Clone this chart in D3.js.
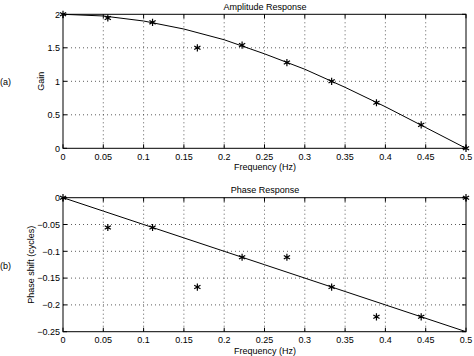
<!DOCTYPE html>
<html><head><meta charset="utf-8">
<script src="https://cdn.jsdelivr.net/npm/d3@7"></script>
<style>
body{margin:0;background:#fff;}
text{font-family:"Liberation Sans",Arial,sans-serif;fill:#000;}
</style></head>
<body><svg id="c" width="474" height="356"></svg>
<script>
// ---- data ----
const xTicks = [0,0.05,0.1,0.15,0.2,0.25,0.3,0.35,0.4,0.45,0.5];
const ampTicks = [0,0.5,1,1.5,2];
const phaseTicks = [0,-0.05,-0.1,-0.15,-0.2,-0.25];
const lineFreq = [0,0.05,0.1,0.15,0.2,0.25,0.3,0.35,0.4,0.45,0.5];
const ampLine = [2.0,1.975,1.90,1.78,1.62,1.41,1.18,0.91,0.62,0.31,0.0];
const phaseLine = [0,-0.025,-0.05,-0.075,-0.1,-0.125,-0.15,-0.175,-0.2,-0.225,-0.25];
const markFreq = [0,0.0556,0.1111,0.1667,0.2222,0.2778,0.3333,0.3889,0.4444,0.5];
const ampMarks = [2.0,1.945,1.88,1.50,1.54,1.28,1.0,0.68,0.35,0.0];
const phaseMarks = [0,-0.0556,-0.0556,-0.1667,-0.1111,-0.1111,-0.1667,-0.2222,-0.2222,0];

const svg = d3.select("#c");
const x = d3.scaleLinear().domain([0,0.5]).range([63,466]);
const FS = 9;

function panel(cfg){
  const y = d3.scaleLinear().domain(cfg.domain).range(cfg.range);
  const g = svg.append("g");
  const [y0,y1] = cfg.range; // bottom, top
  // grid
  g.selectAll(".gx").data(xTicks.slice(1,-1)).enter().append("line")
    .attr("x1",d=>x(d)).attr("x2",d=>x(d)).attr("y1",y1).attr("y2",y0)
    .attr("stroke","#333").attr("stroke-width",0.8).attr("stroke-dasharray","1,3");
  g.selectAll(".gy").data(cfg.ticks.filter(t=>t!==cfg.domain[0]&&t!==cfg.domain[1])).enter().append("line")
    .attr("y1",d=>y(d)).attr("y2",d=>y(d)).attr("x1",x(0)).attr("x2",x(0.5))
    .attr("stroke","#333").attr("stroke-width",0.8).attr("stroke-dasharray","1,3");
  // frame
  g.append("rect").attr("x",x(0)).attr("y",y1).attr("width",x(0.5)-x(0)).attr("height",y0-y1)
    .attr("fill","none").attr("stroke","#000").attr("stroke-width",1);
  // ticks inside
  xTicks.forEach(t=>{
    g.append("line").attr("x1",x(t)).attr("x2",x(t)).attr("y1",y0).attr("y2",y0-4).attr("stroke","#000");
    g.append("line").attr("x1",x(t)).attr("x2",x(t)).attr("y1",y1).attr("y2",y1+4).attr("stroke","#000");
  });
  cfg.ticks.forEach(t=>{
    g.append("line").attr("y1",y(t)).attr("y2",y(t)).attr("x1",x(0)).attr("x2",x(0)+4).attr("stroke","#000");
    g.append("line").attr("y1",y(t)).attr("y2",y(t)).attr("x1",x(0.5)).attr("x2",x(0.5)-4).attr("stroke","#000");
  });
  // tick labels
  g.selectAll(".xl").data(xTicks).enter().append("text")
    .attr("x",d=>x(d)).attr("y",y0+11.5).attr("text-anchor","middle").attr("font-size",FS)
    .text(d=>d3.format("")(d));
  g.selectAll(".yl").data(cfg.ticks).enter().append("text")
    .attr("x",x(0)-3).attr("y",d=>y(d)+3.3).attr("text-anchor","end").attr("font-size",FS)
    .text(d=>String(d).replace("-","\u2212"));
  // title, labels
  g.append("text").attr("x",265).attr("y",y1-4.5).attr("text-anchor","middle").attr("font-size",FS).text(cfg.title);
  g.append("text").attr("x",265).attr("y",y0+22).attr("text-anchor","middle").attr("font-size",FS).text("Frequency (Hz)");
  g.append("text").attr("transform",`translate(${cfg.ylx},${(y0+y1)/2}) rotate(-90)`).attr("text-anchor","middle").attr("font-size",FS).text(cfg.ylabel);
  g.append("text").attr("x",0).attr("y",cfg.tagY).attr("font-size",FS).text(cfg.tag);
  // line
  const line = d3.line().x((d,i)=>x(lineFreq[i])).y(d=>y(d));
  g.append("path").datum(cfg.line).attr("d",line).attr("fill","none").attr("stroke","#000").attr("stroke-width",1);
  // markers
  const sym = d3.symbol().type(d3.symbolAsterisk).size(36);
  g.selectAll(".m").data(cfg.marks).enter().append("path")
    .attr("d",sym).attr("transform",(d,i)=>`translate(${x(markFreq[i])},${y(d)})`)
    .attr("fill","none").attr("stroke","#000").attr("stroke-width",1.2);
}

panel({domain:[0,2],range:[148.3,14.3],ticks:ampTicks,title:"Amplitude Response",ylabel:"Gain",ylx:44,tag:"(a)",tagY:85,line:ampLine,marks:ampMarks});
panel({domain:[-0.25,0],range:[331.7,197.7],ticks:phaseTicks,title:"Phase Response",ylabel:"Phase shift (cycles)",ylx:34,tag:"(b)",tagY:269,line:phaseLine,marks:phaseMarks});
</script></body></html>
